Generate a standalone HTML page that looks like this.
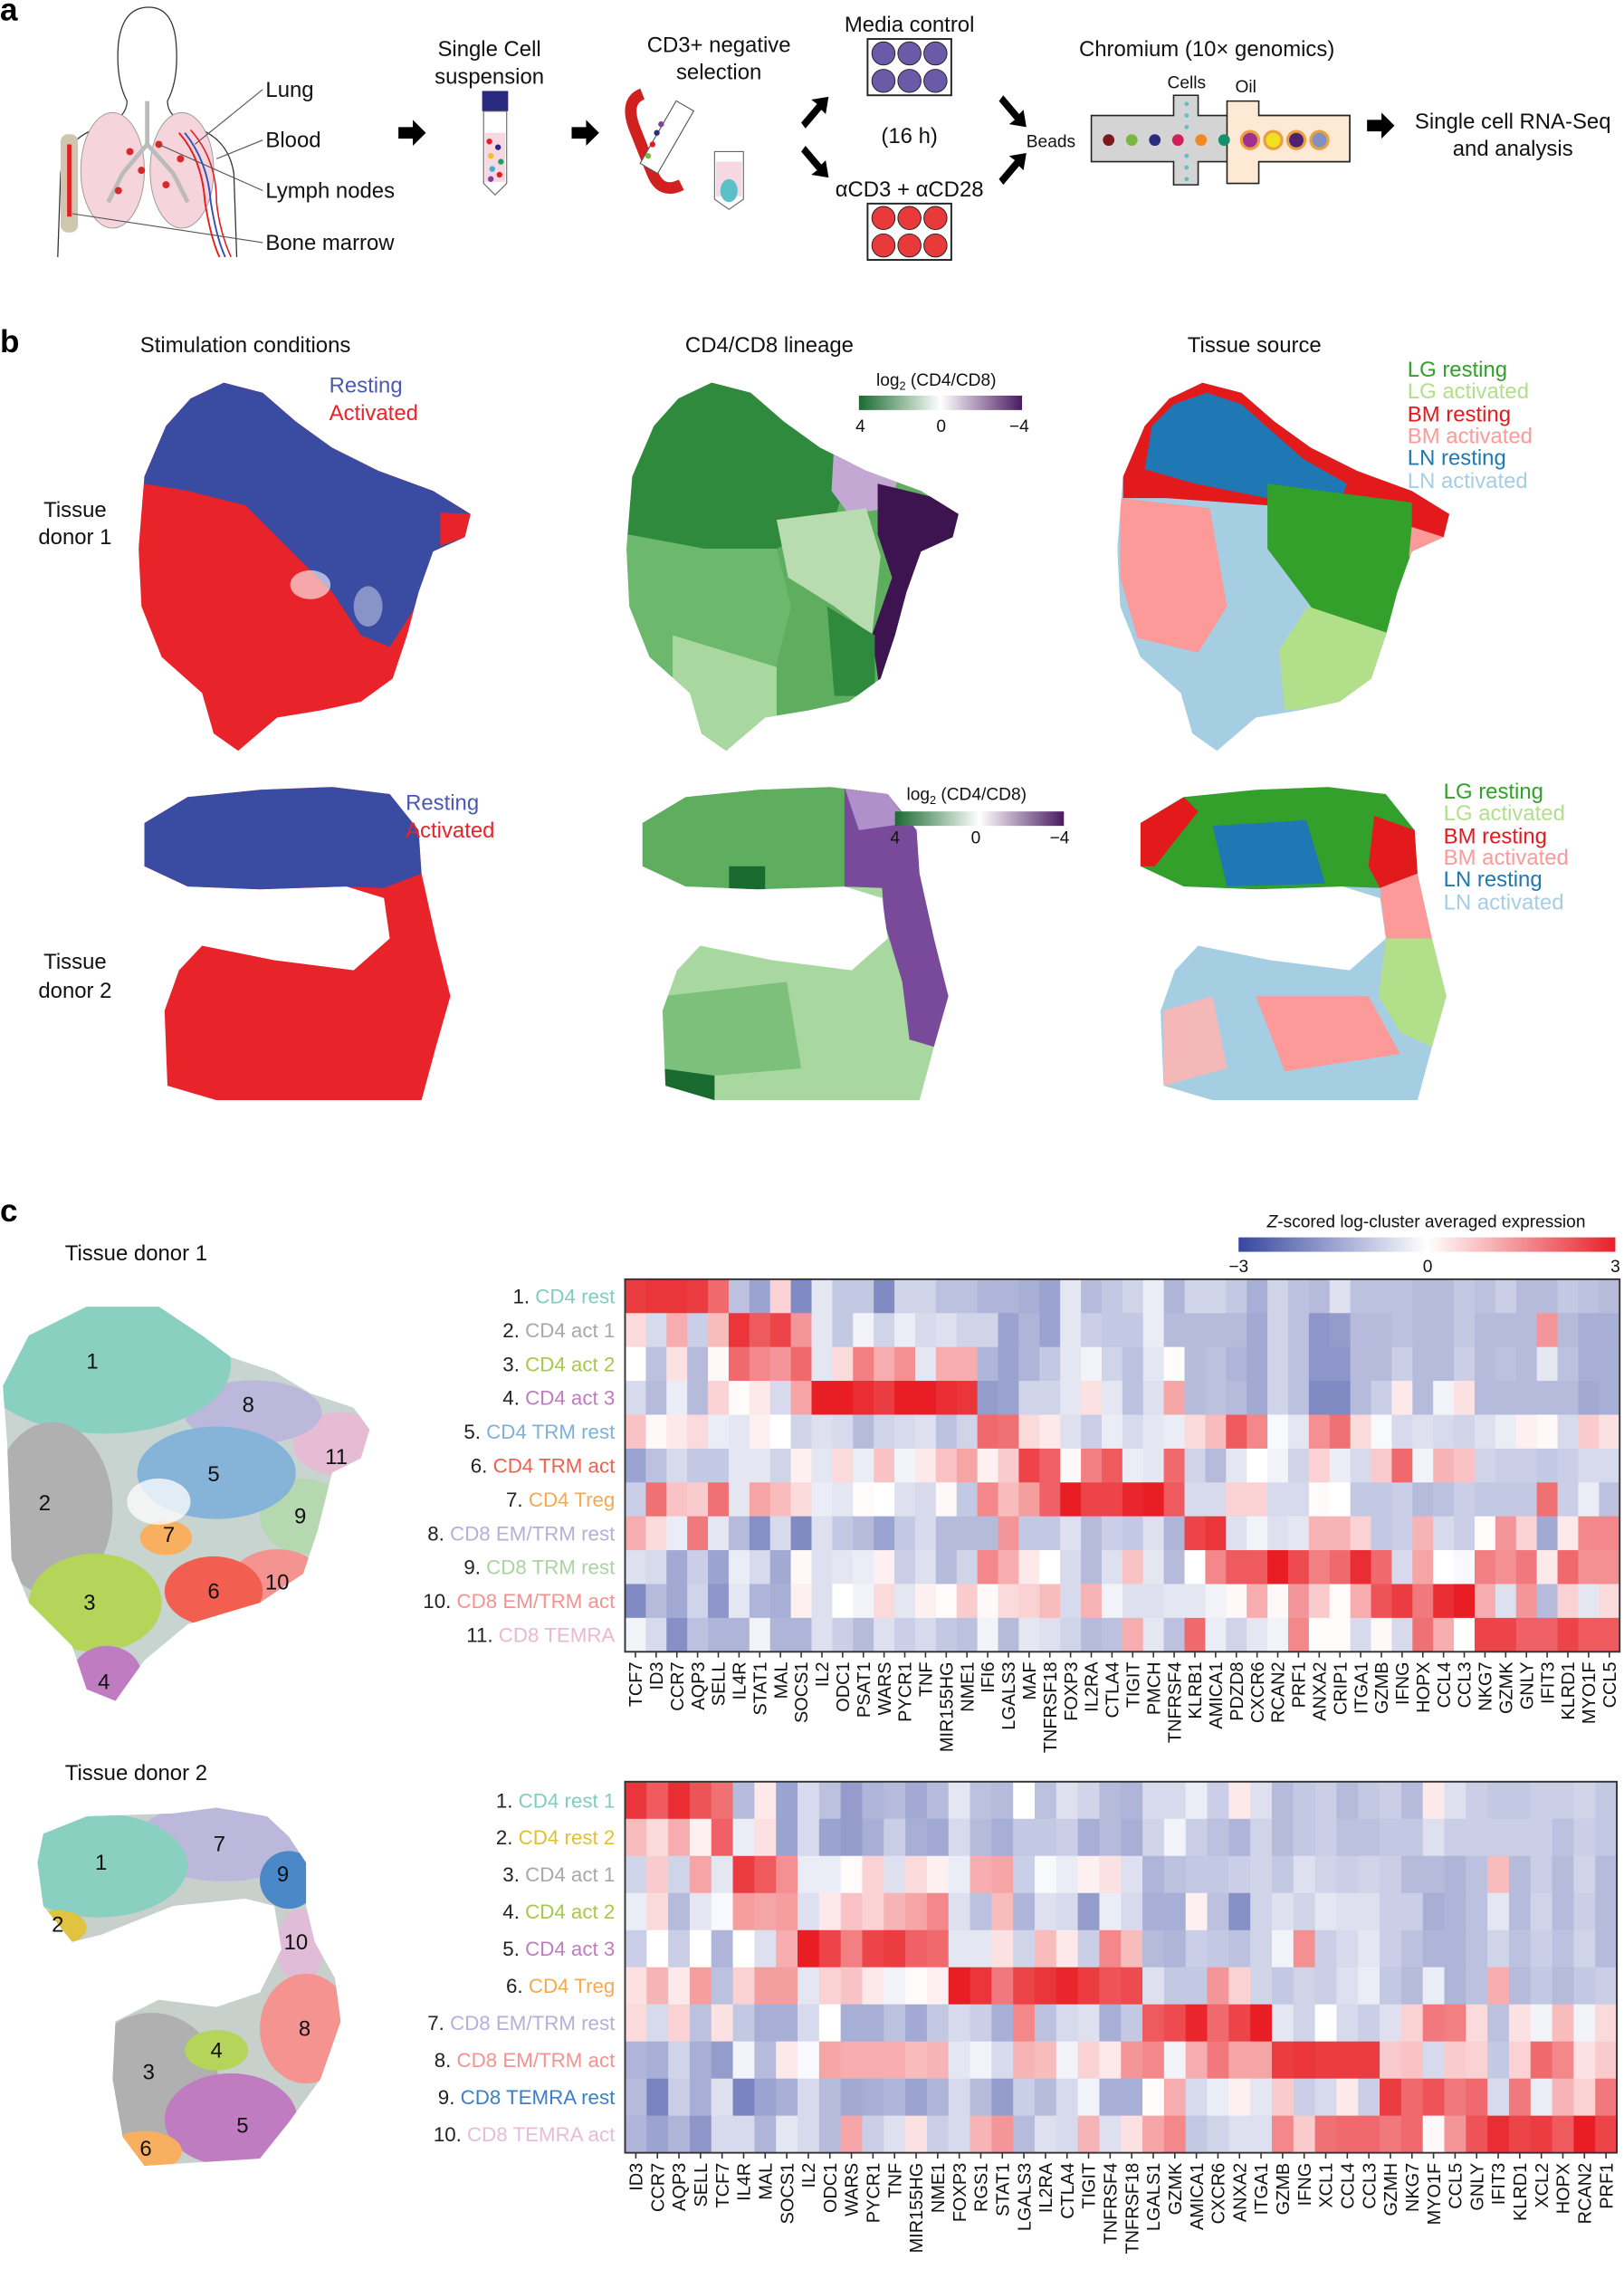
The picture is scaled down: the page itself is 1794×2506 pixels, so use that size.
<!DOCTYPE html>
<html><head><meta charset="utf-8">
<style>
html,body{margin:0;padding:0;background:#fff;}
svg{display:block;font-family:"Liberation Sans",Arial,sans-serif;}
</style></head>
<body>
<svg id="fig" width="1794" height="2506" viewBox="0 0 1125 1571.5" preserveAspectRatio="none" xmlns="http://www.w3.org/2000/svg">
<defs>
<linearGradient id="gpg" x1="0" x2="1"><stop offset="0" stop-color="#1a6a30"/><stop offset="0.5" stop-color="#ffffff"/><stop offset="1" stop-color="#4a1a60"/></linearGradient>
<linearGradient id="gbr" x1="0" x2="1"><stop offset="0" stop-color="#3746a0"/><stop offset="0.5" stop-color="#ffffff"/><stop offset="1" stop-color="#e8202a"/></linearGradient>
<clipPath id="clip1"><polygon points="155,265 182,272 205,292 230,310 262,326 300,340 326,356 322,372 300,382 290,410 282,440 272,470 250,486 222,492 192,497 165,520 148,508 140,480 112,455 98,420 96,380 100,330 115,295 132,276"/></clipPath>
<clipPath id="clip2"><polygon points="100,570 130,552 180,547 230,545 270,550 290,575 292,605 302,650 312,690 302,725 292,762 150,762 116,752 114,700 124,672 140,655 190,665 245,672 270,650 266,622 240,614 180,616 130,614 100,600"/></clipPath>
<clipPath id="clipc1"><polygon points="20,925 60,905 110,905 140,925 160,940 190,950 215,965 245,975 256,990 250,1010 230,1020 220,1060 210,1090 180,1110 130,1125 100,1150 80,1178 60,1170 50,1140 20,1110 8,1080 5,1000 2,960"/></clipPath>
<clipPath id="clipc2"><polygon points="30,1270 60,1258 120,1256 150,1252 185,1258 200,1272 212,1290 212,1320 218,1345 232,1370 236,1400 222,1440 200,1470 180,1495 100,1500 85,1480 78,1440 80,1400 110,1385 150,1390 180,1380 195,1350 190,1320 170,1315 120,1320 70,1340 50,1345 30,1320 26,1290"/></clipPath>
</defs>

<!-- ========== PANEL A ========== -->
<g>
<text x="0" y="14" font-size="22" font-weight="bold">a</text>
<g>
<path d="M40,178 L42,120 Q45,95 70,88 Q88,82 88,70 Q80,55 82,30 Q85,5 103,5 Q120,5 122,30 Q124,55 116,70 Q116,82 134,88 Q158,95 162,120 L164,178" fill="none" stroke="#333" stroke-width="0.8"/>
<ellipse cx="78" cy="118" rx="22" ry="40" fill="#f6d4dc" stroke="#999" stroke-width="0.6"/>
<ellipse cx="126" cy="118" rx="22" ry="40" fill="#f6d4dc" stroke="#999" stroke-width="0.6"/>
<path d="M102,70 L102,100 M102,100 L85,120 M102,100 L120,120 M85,120 L75,140 M120,120 L130,140" stroke="#bbb" stroke-width="3" fill="none"/>
<g fill="#d42a2a"><circle cx="90" cy="105" r="2.5"/><circle cx="110" cy="100" r="2.5"/><circle cx="98" cy="118" r="2.5"/><circle cx="115" cy="128" r="2.5"/><circle cx="82" cy="132" r="2.5"/><circle cx="125" cy="110" r="2.5"/></g>
<rect x="42" y="93" width="12" height="68" rx="5" fill="#cfc6b0"/>
<line x1="48" y1="100" x2="48" y2="150" stroke="#e02020" stroke-width="3"/>
<path d="M124,92 Q140,110 142,140 Q146,165 152,178" stroke="#e02020" stroke-width="1.2" fill="none"/>
<path d="M128,92 Q144,112 146,140 Q150,165 156,178" stroke="#3050c0" stroke-width="1.2" fill="none"/>
<path d="M132,90 Q150,110 150,140 Q152,160 160,178" stroke="#e02020" stroke-width="1" fill="none"/>
<line x1="182" y1="62" x2="135" y2="100" stroke="#555" stroke-width="0.7"/>
<line x1="182" y1="97" x2="150" y2="110" stroke="#555" stroke-width="0.7"/>
<line x1="182" y1="132" x2="110" y2="100" stroke="#555" stroke-width="0.7"/>
<line x1="182" y1="168" x2="50" y2="148" stroke="#555" stroke-width="0.7"/>
</g>
<g font-size="15" fill="#111">
<text x="184" y="67">Lung</text>
<text x="184" y="102">Blood</text>
<text x="184" y="137">Lymph nodes</text>
<text x="184" y="173">Bone marrow</text>
<text x="339" y="39" text-anchor="middle">Single Cell</text>
<text x="339" y="58" text-anchor="middle">suspension</text>
<text x="498" y="36" text-anchor="middle">CD3+ negative</text>
<text x="498" y="55" text-anchor="middle">selection</text>
<text x="630" y="22" text-anchor="middle">Media control</text>
<text x="630" y="99" text-anchor="middle">(16 h)</text>
<text x="630" y="136" text-anchor="middle">αCD3 + αCD28</text>
<text x="836" y="39" text-anchor="middle">Chromium (10× genomics)</text>
<text x="1048" y="89" text-anchor="middle">Single cell RNA-Seq</text>
<text x="1048" y="108" text-anchor="middle">and analysis</text>
</g>
<g font-size="12" fill="#111">
<text x="711" y="102">Beads</text>
<text x="822" y="61" text-anchor="middle">Cells</text>
<text x="863" y="64" text-anchor="middle">Oil</text>
</g>
<g fill="#000">
<polygon points="276,88 286,88 286,83 295,92 286,101 286,96 276,96"/>
<polygon points="396,88 406,88 406,83 415,92 406,101 406,96 396,96"/>
<polygon points="947,83 957,83 957,78 966,87 957,96 957,91 947,91"/>
<polygon points="555,85 566,72 562,69 574,67 572,79 569,76 558,89"/>
<polygon points="555,105 566,118 562,121 574,123 572,111 569,114 558,101"/>
<polygon points="692,70 703,83 699,86 711,88 709,76 706,79 695,66"/>
<polygon points="692,124 703,111 699,108 711,106 709,118 706,115 695,128"/>
</g>
<g>
<rect x="334" y="63" width="18" height="14" fill="#2a2a80"/>
<path d="M335,77 L351,77 L351,127 L343,135 L335,127 Z" fill="#fff" stroke="#666" stroke-width="0.7"/>
<rect x="336" y="92" width="14" height="34" fill="#f7d8e2"/>
<g><circle cx="339" cy="98" r="2" fill="#e02020"/><circle cx="345" cy="102" r="2" fill="#2a2a80"/><circle cx="340" cy="108" r="2" fill="#f0c020"/><circle cx="347" cy="112" r="2" fill="#20a060"/><circle cx="341" cy="117" r="2" fill="#40b0d0"/><circle cx="346" cy="121" r="2" fill="#e02020"/><circle cx="340" cy="124" r="2" fill="#8040a0"/></g>
</g>
<g>
<path d="M445,65 Q432,70 440,90 L452,120 Q458,135 472,128" stroke="#d02020" stroke-width="8" fill="none"/>
<rect x="455" y="70" width="14" height="50" transform="rotate(30 462 95)" fill="#fff" stroke="#555" stroke-width="0.7"/>
<g><circle cx="452" cy="100" r="2" fill="#e02020"/><circle cx="455" cy="92" r="2" fill="#2a2a80"/><circle cx="449" cy="108" r="2" fill="#7ab840"/><circle cx="458" cy="86" r="2" fill="#8040a0"/></g>
<path d="M495,105 L515,105 L515,138 L505,145 L495,138 Z" fill="#fff" stroke="#666" stroke-width="0.7"/>
<rect x="496" y="112" width="18" height="24" fill="#f7d8e2"/>
<ellipse cx="505" cy="132" rx="6" ry="8" fill="#5cc0c8"/>
</g>
<g>
<rect x="601" y="27" width="58" height="39" fill="#fff" stroke="#222" stroke-width="1.2"/>
<g fill="#6a5aa8" stroke="#222" stroke-width="0.6"><circle cx="612" cy="37" r="8"/><circle cx="630" cy="37" r="8"/><circle cx="648" cy="37" r="8"/><circle cx="612" cy="56" r="8"/><circle cx="630" cy="56" r="8"/><circle cx="648" cy="56" r="8"/></g>
</g>
<g>
<rect x="601" y="141" width="58" height="39" fill="#fff" stroke="#222" stroke-width="1.2"/>
<g fill="#e83a3a" stroke="#222" stroke-width="0.6"><circle cx="612" cy="151" r="8"/><circle cx="630" cy="151" r="8"/><circle cx="648" cy="151" r="8"/><circle cx="612" cy="170" r="8"/><circle cx="630" cy="170" r="8"/><circle cx="648" cy="170" r="8"/></g>
</g>
<g>
<path d="M756,80 L813,80 L813,66 L830,66 L830,80 L935,80 L935,112 L830,112 L830,128 L813,128 L813,112 L756,112 Z" fill="#d4d4d4" stroke="#222" stroke-width="1"/>
<path d="M850,70 L872,70 L872,80 L935,80 L935,112 L872,112 L872,127 L850,127 Z" fill="#fde9d4" stroke="#222" stroke-width="1"/>
<g fill="#5cc0c8"><circle cx="822" cy="72" r="1.5"/><circle cx="822" cy="80" r="1.5"/><circle cx="822" cy="88" r="1.5"/><circle cx="822" cy="108" r="1.5"/><circle cx="822" cy="116" r="1.5"/><circle cx="822" cy="124" r="1.5"/></g>
<circle cx="768" cy="97" r="4" fill="#7a1a1a"/><circle cx="784" cy="97" r="4" fill="#7ab840"/><circle cx="800" cy="97" r="4" fill="#2a2a80"/><circle cx="816" cy="97" r="4" fill="#d0205a"/><circle cx="832" cy="97" r="4" fill="#f08a20"/><circle cx="848" cy="97" r="4" fill="#15906a"/>
<g stroke="#e8a040" stroke-width="2"><circle cx="866" cy="97" r="6" fill="#a03090"/><circle cx="882" cy="97" r="6" fill="#f0e020"/><circle cx="898" cy="97" r="6" fill="#502070"/><circle cx="914" cy="97" r="6" fill="#8090c0"/></g>
</g>
</g>

<!-- ========== PANEL B ========== -->
<g>
<text x="0" y="244" font-size="22" font-weight="bold">b</text>
<g font-size="15" fill="#111">
<text x="170" y="244" text-anchor="middle">Stimulation conditions</text>
<text x="533" y="244" text-anchor="middle">CD4/CD8 lineage</text>
<text x="869" y="244" text-anchor="middle">Tissue source</text>
<text x="52" y="358" text-anchor="middle">Tissue</text>
<text x="52" y="377" text-anchor="middle">donor 1</text>
<text x="52" y="671" text-anchor="middle">Tissue</text>
<text x="52" y="691" text-anchor="middle">donor 2</text>
</g>

<g clip-path="url(#clip1)">
<rect x="90" y="260" width="240" height="265" fill="#e8232a"/>
<polygon points="155,265 182,272 205,292 230,310 262,326 300,340 326,356 322,372 300,382 288,420 270,448 250,440 230,410 205,385 170,350 130,340 100,335 100,330 115,295 132,276" fill="#3a4ca2"/>
<ellipse cx="215" cy="405" rx="14" ry="10" fill="#fff" opacity="0.6"/>
<ellipse cx="255" cy="420" rx="10" ry="14" fill="#fff" opacity="0.4"/>
<polygon points="305,355 326,356 322,372 305,378" fill="#e8232a"/>
</g>
<text x="228" y="272" font-size="15" fill="#4a58b0">Resting</text>
<text x="228" y="291" font-size="15" fill="#e8232a">Activated</text>

<g transform="translate(338,0)">
<g clip-path="url(#clip1)">
<rect x="90" y="260" width="240" height="265" fill="#5fae5f"/>
<polygon points="96,260 240,260 252,320 240,360 200,380 150,380 96,370" fill="#2f8a3e"/>
<polygon points="240,305 285,328 278,352 250,356 238,340" fill="#c4a8d4"/>
<polygon points="270,335 332,350 332,480 272,482 266,440 280,400 270,370" fill="#3d1450"/>
<polygon points="200,360 262,352 272,385 266,440 240,420 208,400" fill="#b8dcb0"/>
<polygon points="96,370 150,380 200,380 210,420 200,460 160,520 96,520" fill="#6cb86c"/>
<polygon points="128,440 200,462 200,532 128,532" fill="#a8d8a0"/>
<polygon points="235,420 268,440 268,482 240,482" fill="#2f8a3e"/>
</g>
</g>
<text x="607" y="267" font-size="12" fill="#111">log<tspan font-size="8" dy="3">2</tspan><tspan dy="-3"> (CD4/CD8)</tspan></text>
<rect x="595" y="274" width="113" height="10" fill="url(#gpg)"/>
<g font-size="12" fill="#111" text-anchor="middle">
<text x="596" y="299">4</text>
<text x="652" y="299">0</text>
<text x="706" y="299">−4</text>
</g>

<g transform="translate(678,0)">
<g clip-path="url(#clip1)">
<rect x="90" y="260" width="240" height="265" fill="#a6cee3"/>
<polygon points="155,265 182,272 205,292 230,310 262,326 300,340 326,356 322,372 300,382 260,360 200,350 130,345 100,345 100,330 115,295 132,276" fill="#e31a1c"/>
<polygon points="158,272 182,280 200,296 225,318 255,335 250,350 200,345 150,335 115,325 120,295 135,280" fill="#1f78b4"/>
<polygon points="200,335 300,348 302,392 288,440 252,452 230,420 200,380" fill="#33a02c"/>
<polygon points="228,420 288,440 274,472 250,488 212,492 208,450" fill="#b2df8a"/>
<polygon points="98,345 160,352 172,420 152,452 110,442 98,400" fill="#fb9a99"/>
<polygon points="300,342 326,356 322,372 300,380" fill="#e31a1c"/>
<polygon points="300,365 322,372 305,390 298,385" fill="#fb9a99"/>
</g>
</g>
<g font-size="15">
<text x="975" y="261" fill="#33a02c">LG resting</text>
<text x="975" y="276" fill="#b2df8a">LG activated</text>
<text x="975" y="292" fill="#e31a1c">BM resting</text>
<text x="975" y="307" fill="#fb9a99">BM activated</text>
<text x="975" y="322" fill="#1f78b4">LN resting</text>
<text x="975" y="338" fill="#a6cee3">LN activated</text>
</g>

<g clip-path="url(#clip2)">
<rect x="95" y="540" width="225" height="230" fill="#e8232a"/>
<polygon points="100,570 130,552 180,547 230,545 270,550 290,575 292,605 266,615 240,614 180,616 130,614 100,600" fill="#3a4ca2"/>
</g>
<text x="281" y="561" font-size="15" fill="#4a58b0">Resting</text>
<text x="281" y="580" font-size="15" fill="#e8232a">Activated</text>

<g transform="translate(345,0)">
<g clip-path="url(#clip2)">
<rect x="95" y="540" width="225" height="230" fill="#a8d8a0"/>
<polygon points="100,570 130,552 180,547 230,545 250,546 250,614 180,616 130,614 100,600" fill="#5fae5f"/>
<polygon points="240,545 270,550 290,575 292,605 302,650 312,690 302,725 285,720 280,680 268,640 266,615 240,614" fill="#7a4a9a"/>
<polygon points="240,545 270,550 285,570 250,575" fill="#b090c8"/>
<polygon points="114,690 200,680 210,740 150,745 114,740" fill="#7cc07c"/>
<polygon points="114,740 150,745 150,764 114,764" fill="#1a6a30"/>
<polygon points="160,600 185,600 185,616 160,616" fill="#1a6a30"/>
</g>
</g>
<text x="628" y="554" font-size="12" fill="#111">log<tspan font-size="8" dy="3">2</tspan><tspan dy="-3"> (CD4/CD8)</tspan></text>
<rect x="620" y="562" width="117" height="10" fill="url(#gpg)"/>
<g font-size="12" fill="#111" text-anchor="middle">
<text x="620" y="584">4</text>
<text x="676" y="584">0</text>
<text x="734" y="584">−4</text>
</g>

<g transform="translate(690,0)">
<g clip-path="url(#clip2)">
<rect x="95" y="540" width="225" height="230" fill="#a6cee3"/>
<polygon points="100,570 130,552 180,547 230,545 270,550 290,575 292,605 266,615 240,614 180,616 130,614 100,600" fill="#33a02c"/>
<polygon points="150,572 215,568 228,612 160,614" fill="#1f78b4"/>
<polygon points="100,570 130,552 140,562 110,600 100,600" fill="#e31a1c"/>
<polygon points="262,565 290,575 292,605 266,615 258,600" fill="#e31a1c"/>
<polygon points="266,615 292,605 302,650 290,660 270,650" fill="#fb9a99"/>
<polygon points="270,650 302,650 312,690 302,725 280,715 265,690" fill="#b2df8a"/>
<polygon points="180,690 258,690 280,730 200,742" fill="#fb9a99"/>
<polygon points="116,700 150,690 160,740 116,752" fill="#f4b8b8"/>
</g>
</g>
<g font-size="15">
<text x="1000" y="553" fill="#33a02c">LG resting</text>
<text x="1000" y="568" fill="#b2df8a">LG activated</text>
<text x="1000" y="584" fill="#e31a1c">BM resting</text>
<text x="1000" y="599" fill="#fb9a99">BM activated</text>
<text x="1000" y="614" fill="#1f78b4">LN resting</text>
<text x="1000" y="630" fill="#a6cee3">LN activated</text>
</g>
</g>

<!-- ========== PANEL C ========== -->
<g>
<text x="0" y="846" font-size="22" font-weight="bold">c</text>
<text x="45" y="873" font-size="15" fill="#111">Tissue donor 1</text>
<text x="45" y="1233" font-size="15" fill="#111">Tissue donor 2</text>

<g>
<g clip-path="url(#clipc1)">
<rect x="0" y="900" width="260" height="285" fill="#c8d4d0"/>
<ellipse cx="210" cy="1050" rx="30" ry="26" fill="#b5d8b0"/>
<ellipse cx="235" cy="1000" rx="32" ry="22" fill="#e6bcd4"/>
<ellipse cx="175" cy="978" rx="48" ry="22" fill="#bcb8dc"/>
<ellipse cx="150" cy="1020" rx="55" ry="32" fill="#86b4d8"/>
<ellipse cx="72" cy="945" rx="88" ry="48" fill="#8ad0c0"/>
<ellipse cx="36" cy="1045" rx="42" ry="60" fill="#b0b0b0"/>
<ellipse cx="192" cy="1095" rx="32" ry="22" fill="#f4938f"/>
<ellipse cx="148" cy="1102" rx="34" ry="24" fill="#f25f50"/>
<ellipse cx="115" cy="1065" rx="18" ry="12" fill="#f8b060"/>
<ellipse cx="66" cy="1110" rx="46" ry="34" fill="#b4d45a"/>
<ellipse cx="74" cy="1160" rx="24" ry="20" fill="#c07cc0"/>
<ellipse cx="110" cy="1040" rx="22" ry="16" fill="#fff" opacity="0.75"/>
</g>
<g font-size="15" fill="#111" text-anchor="middle">
<text x="64" y="948">1</text>
<text x="31" y="1046">2</text>
<text x="62" y="1115">3</text>
<text x="72" y="1170">4</text>
<text x="148" y="1026">5</text>
<text x="148" y="1107">6</text>
<text x="117" y="1068">7</text>
<text x="172" y="978">8</text>
<text x="208" y="1055">9</text>
<text x="192" y="1101">10</text>
<text x="233" y="1014">11</text>
</g>
</g>

<g>
<g clip-path="url(#clipc2)">
<rect x="20" y="1245" width="225" height="260" fill="#c8d0cc"/>
<ellipse cx="155" cy="1275" rx="60" ry="28" fill="#bcb8dc"/>
<ellipse cx="68" cy="1292" rx="62" ry="36" fill="#8ad0c0"/>
<ellipse cx="40" cy="1335" rx="20" ry="12" fill="#e0c440"/>
<ellipse cx="200" cy="1302" rx="20" ry="20" fill="#4a88c8"/>
<ellipse cx="208" cy="1348" rx="16" ry="26" fill="#e0bcd8"/>
<ellipse cx="212" cy="1405" rx="32" ry="38" fill="#f4938f"/>
<ellipse cx="105" cy="1440" rx="46" ry="46" fill="#b0b0b0"/>
<ellipse cx="160" cy="1468" rx="46" ry="32" fill="#c07cc0"/>
<ellipse cx="150" cy="1420" rx="22" ry="14" fill="#b4d45a"/>
<ellipse cx="100" cy="1490" rx="26" ry="14" fill="#f8b060"/>
</g>
<g font-size="15" fill="#111" text-anchor="middle">
<text x="70" y="1295">1</text>
<text x="40" y="1338">2</text>
<text x="103" y="1440">3</text>
<text x="150" y="1425">4</text>
<text x="168" y="1477">5</text>
<text x="101" y="1493">6</text>
<text x="152" y="1282">7</text>
<text x="211" y="1410">8</text>
<text x="196" y="1303">9</text>
<text x="205" y="1350">10</text>
</g>
</g>

<text x="988" y="850" font-size="12" fill="#111" text-anchor="middle"><tspan font-style="italic">Z</tspan>-scored log-cluster averaged expression</text>
<rect x="858" y="857" width="261" height="10" fill="url(#gbr)"/>
<g font-size="12" fill="#111" text-anchor="middle">
<text x="858" y="881">−3</text>
<text x="989" y="881">0</text>
<text x="1119" y="881">3</text>
</g>
<g id="hm1"></g>
<g id="hm2"></g>
</g>
</svg>

<script>
const genes1 = ["TCF7","ID3","CCR7","AQP3","SELL","IL4R","STAT1","MAL","SOCS1","IL2","ODC1","PSAT1","WARS","PYCR1","TNF","MIR155HG","NME1","IFI6","LGALS3","MAF","TNFRSF18","FOXP3","IL2RA","CTLA4","TIGIT","PMCH","TNFRSF4","KLRB1","AMICA1","PDZD8","CXCR6","RCAN2","PRF1","ANXA2","CRIP1","ITGA1","GZMB","IFNG","HOPX","CCL4","CCL3","NKG7","GZMK","GNLY","IFIT3","KLRD1","MYO1F","CCL5"];
const clusters1 = ["CD4 rest","CD4 act 1","CD4 act 2","CD4 act 3","CD4 TRM rest","CD4 TRM act","CD4 Treg","CD8 EM/TRM rest","CD8 TRM rest","CD8 EM/TRM act","CD8 TEMRA"];
const clusterColors1 = ["#7fcdbb","#a8a8a8","#a6c94a","#c07cc0","#7fb0d8","#f25f50","#f8a850","#b4b0d8","#a8d5a0","#f4938f","#eab8d0"];
const values1 = [
[2.6,2.7,2.7,2.6,2.0,-1,-1.5,0.6,-1.9,-0.4,-0.9,-0.9,-1.9,-0.7,-0.7,-1,-1,-1.2,-1.2,-1.3,-1.5,-0.4,-1.1,-0.9,-0.7,-0.3,-1.2,-0.7,-0.7,-0.9,-1.3,-0.7,-1,-1.1,-0.5,-1,-1,-1,-1.1,-1.1,-0.9,-1,-0.8,-1.1,-1.1,-0.9,-1,-1.1],
[0.5,-0.6,1.1,-0.8,0.9,2.7,2.2,2.5,1.4,-0.4,-0.9,-0.2,-0.7,-0.3,-0.6,-0.5,-0.7,-0.7,-1.5,-1.2,-1.5,-0.4,-0.8,-0.9,-0.9,-0.3,-1.1,-1.1,-1.1,-1.1,-1.4,-0.7,-1,-1.7,-1.6,-1.1,-1.1,-1,-1.1,-1.1,-0.9,-1.1,-1.1,-1.1,1.4,-1.1,-1.3,-1.3],
[0,-1,0.4,-1.1,0.1,2,1.6,1.4,2,-0.4,0.5,1.7,1.1,1.5,-0.4,1.1,1.1,-1.2,-1.5,-1.2,-0.9,-0.4,-0.2,-0.7,-1,-0.4,0.05,-1.1,-1,-1.2,-1.4,-0.7,-1,-1.7,-1.7,-1.1,-1.1,-0.8,-1.1,-1.1,-0.8,-1.1,-1,-1.1,-0.4,-1,-1.3,-1.3],
[-0.6,-1.1,-0.3,-1.1,0.6,0.05,0.3,-0.6,1.2,3,3,2.8,2.6,3,3,2.8,2.7,-1.6,-1.5,-0.7,-0.7,-0.4,0.4,-0.4,-1,-0.5,1.2,-1.1,-1,-1.1,-1.4,-0.7,-1,-1.9,-1.9,-1.1,-0.8,0.3,-1.1,-0.2,0.4,-1.1,-1.1,-1.1,-1.1,-1.1,-1.4,-1.3],
[0.8,0.1,0.3,0.5,-0.3,-0.4,0.2,0,-0.7,-0.5,-0.6,-1.1,-0.7,-0.6,-0.5,-1,-0.7,2,1.9,0.5,0.3,-0.5,-0.8,-0.3,-0.6,-0.4,-0.3,0.5,0.9,2.2,1.6,-0.1,-0.4,1.5,1.9,0.5,-0.1,-0.6,-0.5,-0.6,-0.7,-0.5,-0.3,0.2,0.1,-0.6,0.7,0.4],
[-1.5,-1,-0.6,-0.9,-0.9,-0.4,-0.4,-0.7,0.2,-0.4,0.5,-0.3,0.8,-0.2,0.3,0.8,1.2,0.2,0.7,2.5,2.1,0.1,1.7,2.2,-0.3,-0.4,2,-0.7,-1.1,-0.4,0,-0.2,-0.7,0.6,-0.3,-0.6,0.7,2,-0.2,1,0.8,-0.7,-0.8,-0.8,-0.9,-0.8,-0.6,-0.6],
[-0.8,1.9,0.8,0.7,1.9,-0.4,1.2,0.9,0.5,-0.3,-0.4,0.05,0,-0.5,-0.6,0.1,-0.9,1.6,0.9,1.3,2.1,3,2.5,2.5,2.9,3,2.2,-0.6,-0.6,0.6,0.6,-0.6,-0.6,0.05,0,-0.9,-0.9,-0.8,-1.1,-1,-0.8,-0.9,-0.9,-0.9,1.9,-0.8,-0.3,-1],
[1.1,0.5,-0.3,1.8,-0.4,-1.1,-1.8,-0.6,-1.9,-0.5,-0.9,-1.1,-1.5,-0.9,-0.6,-1.1,-1.1,-1.1,1.4,-0.9,-0.9,-0.5,-1.1,-0.8,-0.9,-0.5,-1.2,2.5,2.7,-0.5,-0.2,-0.5,-0.4,1,1,0.6,-0.9,-0.8,1,-0.6,-0.8,0.05,1.4,0.6,-1.4,0.3,1.6,1.6],
[-0.5,-0.6,-1.4,-0.8,-1.5,-0.3,-0.6,-1.4,0.1,-0.5,-0.4,-0.3,0.2,-0.8,-0.5,-1.1,-0.7,1.6,1.1,0.3,0,-0.6,-1.1,-0.5,0.8,-0.4,-1.1,0,1.6,2.2,2.2,3,2.4,1.7,2,2.8,2,-0.6,1.2,0,-0.1,1.7,1.5,1.8,0.3,2,1.5,1.5],
[-1.9,-1.1,-1.4,-0.7,-1.7,-0.4,-1.2,-1.3,0.2,-0.5,0,-0.2,0.5,-0.4,0.2,0.05,0.7,0.1,0.5,0.6,0.9,-0.6,1,-0.2,-0.5,-0.5,-0.4,-0.4,-0.2,0.1,1.1,0.1,1.4,0.7,0.05,1.1,2.3,2.6,1.8,2.8,3,1.1,-0.5,1.4,-1.1,0.6,-0.4,0.5],
[-0.2,-0.6,-1.8,-1,-1.2,-1.2,-0.2,-1.2,-1.2,-0.5,-0.8,-1.1,-0.5,-0.8,-0.6,-0.9,-1,-0.2,-1.1,-0.4,-0.5,-0.7,-1.1,-1,1.1,-0.4,-1,2,-0.3,-0.7,-0.4,-0.2,1.6,0.05,0.05,-0.6,0.1,-0.6,1.9,1.1,0,2.5,2.5,2.1,2.1,2.5,2.2,2.2]
];

const genes2 = ["ID3","CCR7","AQP3","SELL","TCF7","IL4R","MAL","SOCS1","IL2","ODC1","WARS","PYCR1","TNF","MIR155HG","NME1","FOXP3","RGS1","STAT1","LGALS3","IL2RA","CTLA4","TIGIT","TNFRSF4","TNFRSF18","LGALS1","GZMK","AMICA1","CXCR6","ANXA2","ITGA1","GZMB","IFNG","XCL1","CCL4","CCL3","GZMH","NKG7","MYO1F","CCL5","GNLY","IFIT3","KLRD1","XCL2","HOPX","RCAN2","PRF1"];
const clusters2 = ["CD4 rest 1","CD4 rest 2","CD4 act 1","CD4 act 2","CD4 act 3","CD4 Treg","CD8 EM/TRM rest","CD8 EM/TRM act","CD8 TEMRA rest","CD8 TEMRA act"];
const clusterColors2 = ["#7fcdbb","#e0c030","#a8a8a8","#a6c94a","#c07cc0","#f8a850","#b4b0d8","#f4938f","#3a80c8","#e6bcd8"];
const values2 = [
[2.7,2.2,2.8,2.3,1.9,-1.1,0.3,-1.5,-0.6,-1,-1.6,-1.2,-1.1,-1.4,-1.1,-0.4,-1,-1.1,0,-1,-0.5,-0.7,-1.1,-1.2,-0.6,-0.6,-0.3,-0.8,0.3,-0.5,-1.1,-0.9,-0.8,-1.1,-0.9,-0.8,-1.1,0.3,-0.5,-0.8,-0.9,-0.9,-0.8,-0.8,-0.7,-0.9],
[0.9,0.5,1.1,0.2,2.1,-0.3,0.4,-1.5,-0.6,-1.5,-1.6,-1.3,-0.8,-1.3,-1.4,-0.6,-1.1,-1.3,-0.9,-0.9,-0.8,-1.3,-1.1,-1.3,-0.7,-0.2,-0.8,-1,-1.2,-0.7,-1.1,-0.9,-0.8,-1,-1,-0.9,-0.9,-0.5,-0.8,-0.8,-0.8,-0.8,-0.8,-1,-0.8,-0.9],
[-0.7,0.7,-0.7,1.2,-0.4,2.6,2.2,1.5,-0.3,-0.3,0.05,0.6,-0.5,0.5,0.2,-0.3,1.1,1.2,-0.8,-0.1,-0.3,0.2,0.4,-0.5,-1.2,-1,-0.9,-0.9,-0.8,-0.7,-0.9,-0.5,-0.7,-0.8,-0.7,-0.8,-1.1,-1.1,-1.2,-1,0.9,-1.1,-0.8,-1.1,-0.7,-1.1],
[-0.3,0.5,-1.1,-0.4,-0.1,1.3,1.2,1.3,-0.5,0.3,0.8,0.6,1,1.2,1.6,-0.5,-1,0.9,-1.2,-0.5,-0.6,-1.6,-0.3,-0.6,-1.3,-1.3,0.2,-1,-1.8,-0.7,-0.5,-0.7,-0.4,-0.5,-0.5,-0.8,-0.8,-1.3,-1.2,-1,-0.4,-1.1,-0.7,-1.1,-0.8,-1.1],
[-0.8,0,-0.8,0,-1.2,0,-0.5,1.1,3,2.5,1.7,2.5,2.6,2.1,2,-0.4,-0.4,0.4,-0.7,0.9,0.3,-0.8,1.6,0.9,-1.1,-1.2,-0.8,-0.9,-1,-0.7,-0.2,1.5,-0.8,-0.6,-0.4,-0.8,-1,-1.2,-1.2,-1,-0.7,-1,-0.8,-1,-0.7,-1.1],
[0.4,1,0.3,1.3,-1,0.6,1.3,1.3,-0.4,0.6,0.8,0.3,-0.2,0.05,0.2,3,2.7,1.8,2.5,2.7,2.9,2.6,2.3,2.4,-0.5,-0.9,-0.9,1.4,0.6,-0.7,-0.9,-0.7,-0.8,-0.5,-0.3,-0.9,-1.1,-0.3,-1.2,-1,1.1,-1.1,-0.9,-1.1,-0.9,-0.8],
[0.5,-0.6,0.6,-1,0.4,-0.9,-1.3,-1.3,-0.6,0,-1.3,-1.3,-1,-1.4,-0.9,-0.6,-0.8,-1.3,1.6,-1,-0.6,-0.5,-1.3,-0.9,2.2,2.4,2.9,2,2.5,3,-0.4,-0.7,0.02,-0.6,-0.8,-0.5,0.6,1.8,1.7,0.5,-1,0.4,-0.2,0.9,-0.2,0.5],
[-1.2,-1.3,-0.7,-1.3,-1.6,-0.2,-1.1,0.3,-0.1,1.2,1.1,1.1,1.1,0.9,1,-0.4,-0.2,-0.6,1,0.9,-0.2,0.6,0.3,1.4,1.6,-0.2,1.1,1.8,1.2,1.2,2.6,2.7,2.6,2.6,2.6,0.7,0.8,-0.6,0.7,0.6,-0.9,0.6,2,1.6,0.4,0.7],
[-1.1,-2,-0.8,-1.3,-0.5,-2,-1.5,-1.3,-0.6,-1.1,-1.4,-1.3,-1.2,-1.5,-1.2,-0.6,-1.1,-1.6,-0.8,-1.1,-0.6,-0.2,-1.3,-1.3,0.05,1.1,-0.6,-0.3,0.2,-0.4,0.7,-0.8,-0.6,0.3,-0.8,2.6,2,2.3,1.8,2,-0.6,1.8,-0.3,1,0.6,1.8],
[-1.2,-1.5,-1.2,-1.7,-0.6,-0.6,-1.2,-0.4,-0.6,-1.1,1.2,-0.8,-0.5,0.4,-0.8,-0.6,1,1.4,-1.1,-0.5,-0.6,1,-0.5,0.4,1.2,1.6,-0.9,-0.7,-0.5,-0.5,1.6,0.7,1.9,2,2,1.8,2,0.1,1.4,2.3,2.8,2.5,2.6,2.2,3,2.5]
];

const NS = "http://www.w3.org/2000/svg";
function colorOf(v){
  const t = Math.max(-1, Math.min(1, v/3));
  let r,g,b;
  if (t < 0){ const f=-t; r=255+(55-255)*f; g=255+(70-255)*f; b=255+(160-255)*f; }
  else { const f=t; r=255+(232-255)*f; g=255+(30-255)*f; b=255+(36-255)*f; }
  return "rgb("+Math.round(r)+","+Math.round(g)+","+Math.round(b)+")";
}
function drawHeatmap(gid, genes, clusters, colors, vals, x0, y0, x1, y1){
  const g = document.getElementById(gid);
  const cw = (x1-x0)/genes.length, rh = (y1-y0)/clusters.length;
  const xOf = j => x0 + j*cw;
  const yOf = i => y0 + i*rh;
  for (let i=0;i<clusters.length;i++){
    for (let j=0;j<genes.length;j++){
      const r = document.createElementNS(NS,"rect");
      r.setAttribute("x", xOf(j)); r.setAttribute("y", yOf(i));
      r.setAttribute("width", cw+0.3); r.setAttribute("height", rh+0.3);
      r.setAttribute("fill", colorOf(vals[i][j]));
      
      
      g.appendChild(r);
    }
    const t = document.createElementNS(NS,"text");
    t.setAttribute("x", x0-7); t.setAttribute("y", yOf(i)+rh/2+5);
    t.setAttribute("text-anchor","end"); t.setAttribute("font-size","14");
    const a = document.createElementNS(NS,"tspan"); a.setAttribute("fill","#222"); a.textContent = (i+1)+". ";
    const b = document.createElementNS(NS,"tspan"); b.setAttribute("fill", colors[i]); b.textContent = clusters[i];
    t.appendChild(a); t.appendChild(b);
    
    
    g.appendChild(t);
  }
  const border = document.createElementNS(NS,"rect");
  border.setAttribute("x",x0); border.setAttribute("y",y0);
  border.setAttribute("width",x1-x0); border.setAttribute("height",y1-y0);
  border.setAttribute("fill","none"); border.setAttribute("stroke","#333"); border.setAttribute("stroke-width","1.2");
  
  
  g.appendChild(border);
  for (let j=0;j<genes.length;j++){
    const cx = xOf(j)+cw/2;
    const tk = document.createElementNS(NS,"line");
    tk.setAttribute("x1",cx); tk.setAttribute("x2",cx); tk.setAttribute("y1",y1); tk.setAttribute("y2",y1+4);
    tk.setAttribute("stroke","#333"); tk.setAttribute("stroke-width","1");
    
    
    g.appendChild(tk);
    const lb = document.createElementNS(NS,"text");
    lb.setAttribute("transform","translate("+(cx+4.5)+","+(y1+7)+") rotate(-90)");
    lb.setAttribute("text-anchor","end"); lb.setAttribute("font-size","12.5"); lb.setAttribute("fill","#111");
    lb.textContent = genes[j];
    
    
    g.appendChild(lb);
  }
}
drawHeatmap("hm1", genes1, clusters1, clusterColors1, values1, 433, 886, 1122, 1144);
drawHeatmap("hm2", genes2, clusters2, clusterColors2, values2, 433, 1234, 1120, 1491);
</script>
</body></html>
